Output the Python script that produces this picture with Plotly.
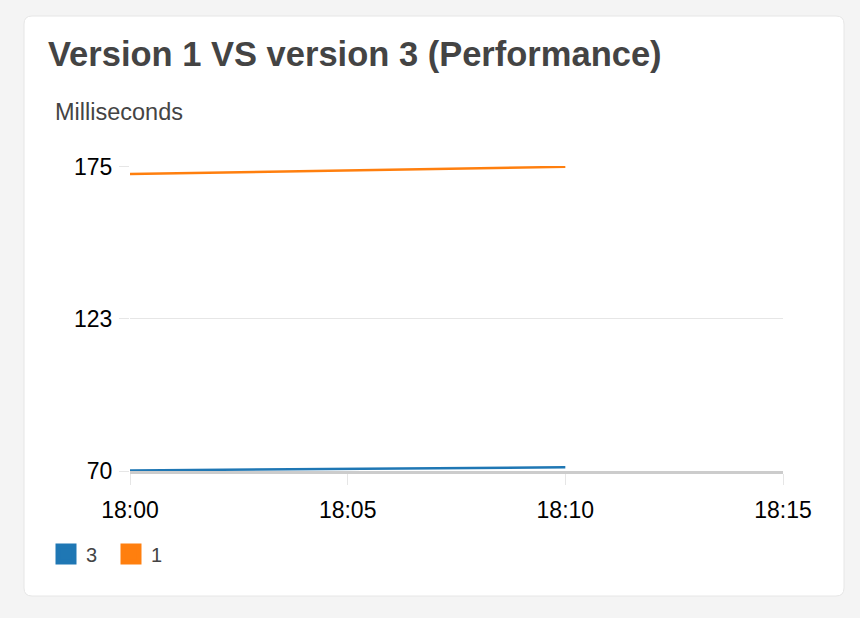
import plotly.graph_objects as go

# ---- data ----
times = ["2024-01-01 18:00", "2024-01-01 18:10"]
series_names = ["3", "1"]
series_values = {
    "3": [70.2, 71.3],
    "1": [172.5, 175.0],
}
series_colors = {"3": "#1f77b4", "1": "#ff7f0e"}
y_tickvals = [70, 122.5, 175]
y_ticktext = ["70", "123", "175"]
x_tickvals = ["2024-01-01 18:00", "2024-01-01 18:05", "2024-01-01 18:10", "2024-01-01 18:15"]
x_ticktext = ["18:00", "18:05", "18:10", "18:15"]
title_text = "Version 1 VS version 3 (Performance)"
y_label = "Milliseconds"

W, H = 860, 618
L, R, T, B = 130, 77, 166, 147
pw, ph = W - L - R, H - T - B


def px2x(px):
    return (px - L) / pw


def px2y(py):
    return (H - B - py) / ph


FONT = "Liberation Sans, Arial, Helvetica, sans-serif"

fig = go.Figure()
for name in series_names:
    fig.add_trace(go.Scatter(
        x=times, y=series_values[name], mode="lines", name=name,
        line=dict(color=series_colors[name], width=2.5),
        showlegend=False, legendgroup=name, hoverinfo="x+y+name",
    ))
    fig.add_trace(go.Scatter(
        x=[None], y=[None], mode="markers", name=name, legendgroup=name,
        marker=dict(symbol="square", size=16, color=series_colors[name],
                    line=dict(width=5, color=series_colors[name])),
        showlegend=True,
    ))

# card background with rounded corners
x0, x1, y0, y1, r = 24, 844, 16, 596, 8
path = (
    f"M {px2x(x0 + r)} {px2y(y0)} L {px2x(x1 - r)} {px2y(y0)} "
    f"Q {px2x(x1)} {px2y(y0)} {px2x(x1)} {px2y(y0 + r)} "
    f"L {px2x(x1)} {px2y(y1 - r)} Q {px2x(x1)} {px2y(y1)} {px2x(x1 - r)} {px2y(y1)} "
    f"L {px2x(x0 + r)} {px2y(y1)} Q {px2x(x0)} {px2y(y1)} {px2x(x0)} {px2y(y1 - r)} "
    f"L {px2x(x0)} {px2y(y0 + r)} Q {px2x(x0)} {px2y(y0)} {px2x(x0 + r)} {px2y(y0)} Z"
)
fig.add_shape(type="path", path=path, xref="paper", yref="paper",
              fillcolor="white", line=dict(color="#e6e6e6", width=1), layer="below")

fig.add_annotation(text=f"<b>{title_text}</b>", xref="paper", yref="paper",
                   x=px2x(46), y=px2y(54), xanchor="left", yanchor="middle",
                   showarrow=False, font=dict(family=FONT, size=34.5, color="#444444"))
fig.add_annotation(text=y_label, xref="paper", yref="paper",
                   x=px2x(53), y=px2y(112), xanchor="left", yanchor="middle",
                   showarrow=False, font=dict(family=FONT, size=23.5, color="#444444"))

fig.update_layout(
    width=W, height=H,
    margin=dict(l=L, r=R, t=T, b=B),
    paper_bgcolor="#f4f4f4",
    plot_bgcolor="rgba(0,0,0,0)",
    font=dict(family=FONT, size=23, color="#000000"),
    showlegend=True,
    legend=dict(orientation="h", x=px2x(46), y=px2y(554), xanchor="left", yanchor="middle",
                font=dict(family=FONT, size=20, color="#444444"),
                bgcolor="rgba(0,0,0,0)", itemwidth=30, tracegroupgap=0,
                entrywidth=20, entrywidthmode="pixels"),
    xaxis=dict(
        type="date", range=[x_tickvals[0], x_tickvals[-1]],
        tickvals=x_tickvals, ticktext=x_ticktext,
        showgrid=False, zeroline=False,
        showline=True, linecolor="#cccccc", linewidth=3,
        ticks="outside", ticklen=11, tickcolor="#e6e6e6", tickwidth=1,
        ticklabelstandoff=5,
        tickfont=dict(family=FONT, size=23, color="#000000"),
        fixedrange=True,
    ),
    yaxis=dict(
        range=[70, 175.3],
        tickvals=y_tickvals, ticktext=y_ticktext,
        showgrid=True, gridcolor="#e6e6e6", gridwidth=1,
        zeroline=False, showline=False,
        ticks="outside", ticklen=10, tickcolor="#e6e6e6", tickwidth=1,
        ticklabelstandoff=2,
        tickfont=dict(family=FONT, size=23, color="#000000"),
        fixedrange=True,
    ),
)

fig.write_html("out.html", config={"displayModeBar": False},
               post_script="document.body.style.margin='0px';")
